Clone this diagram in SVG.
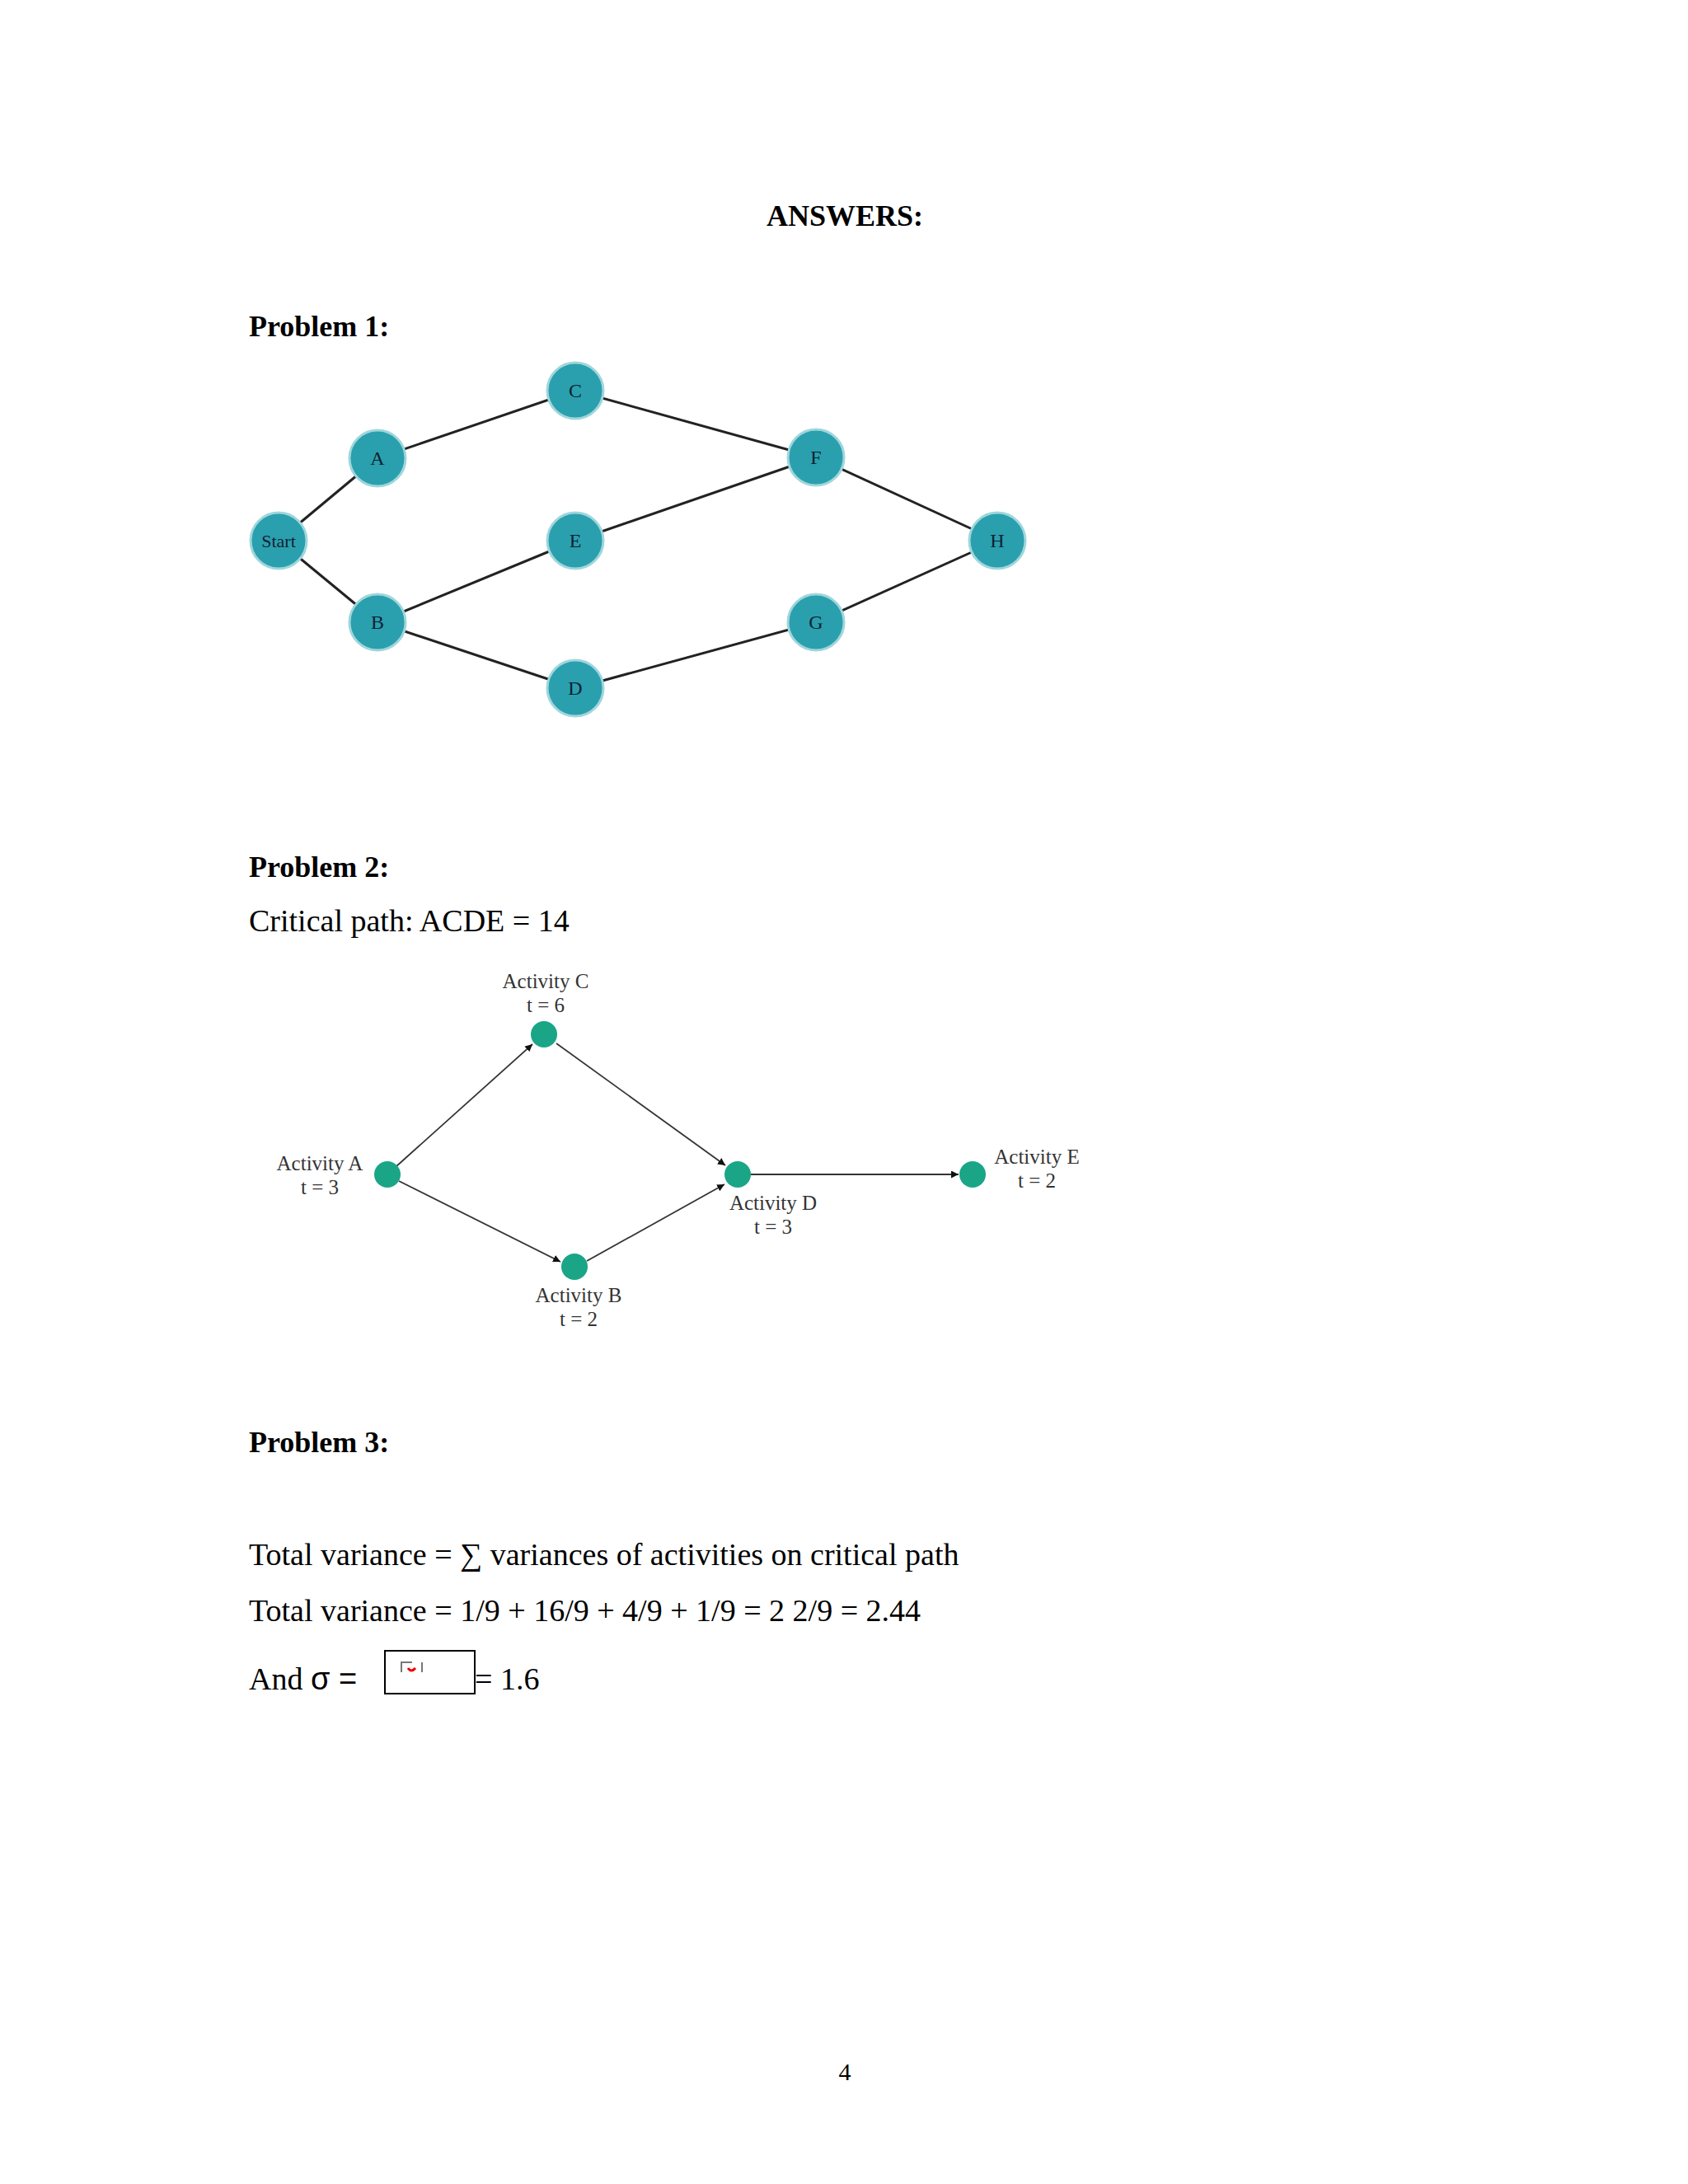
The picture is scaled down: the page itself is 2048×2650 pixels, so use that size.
<svg xmlns="http://www.w3.org/2000/svg" width="2048" height="2650" viewBox="0 0 2048 2650">
<style>
.t{font-family:"Liberation Serif",serif;fill:#000}
.b{font-weight:bold;font-size:36px}
.n1{fill:#2aa0ae;stroke:#9fd6dc;stroke-width:3}
.l1{font-family:"Liberation Serif",serif;font-size:24px;fill:#123;text-anchor:middle}
.n2{fill:#1aa587}
.l2{font-family:"Liberation Serif",serif;font-size:25px;fill:#333;text-anchor:middle}
.e1{stroke:#222;stroke-width:3}
.e2{stroke:#333;stroke-width:1.8;fill:none;marker-end:url(#ar)}
</style>
<defs><marker id="ar" viewBox="0 0 10 10" refX="10" refY="5" markerWidth="9" markerHeight="9" markerUnits="userSpaceOnUse" orient="auto"><path d="M0,0L10,5L0,10z" fill="#111"/></marker></defs>
<rect width="2048" height="2650" fill="#fff"/>
<text class="t b" x="1025" y="274" text-anchor="middle">ANSWERS:</text>
<text class="t b" x="302" y="408">Problem  1:</text>
<g id="edges1">
<line class="e1" x1="338" y1="656" x2="458" y2="556"/>
<line class="e1" x1="338" y1="656" x2="458" y2="755"/>
<line class="e1" x1="458" y1="556" x2="698" y2="474"/>
<line class="e1" x1="458" y1="755" x2="698" y2="656"/>
<line class="e1" x1="458" y1="755" x2="698" y2="835"/>
<line class="e1" x1="698" y1="474" x2="990" y2="555"/>
<line class="e1" x1="698" y1="656" x2="990" y2="555"/>
<line class="e1" x1="698" y1="835" x2="990" y2="755"/>
<line class="e1" x1="990" y1="555" x2="1210" y2="656"/>
<line class="e1" x1="990" y1="755" x2="1210" y2="656"/>
</g>
<g id="p1-start"><circle class="n1" cx="338" cy="656" r="34"/><text class="l1" x="338" y="664" style="font-size:22px">Start</text></g>
<g id="p1-A"><circle class="n1" cx="458" cy="556" r="34"/><text class="l1" x="458" y="564">A</text></g>
<g id="p1-B"><circle class="n1" cx="458" cy="755" r="34"/><text class="l1" x="458" y="763">B</text></g>
<g id="p1-C"><circle class="n1" cx="698" cy="474" r="34"/><text class="l1" x="698" y="482">C</text></g>
<g id="p1-E"><circle class="n1" cx="698" cy="656" r="34"/><text class="l1" x="698" y="664">E</text></g>
<g id="p1-D"><circle class="n1" cx="698" cy="835" r="34"/><text class="l1" x="698" y="843">D</text></g>
<g id="p1-F"><circle class="n1" cx="990" cy="555" r="34"/><text class="l1" x="990" y="563">F</text></g>
<g id="p1-G"><circle class="n1" cx="990" cy="755" r="34"/><text class="l1" x="990" y="763">G</text></g>
<g id="p1-H"><circle class="n1" cx="1210" cy="656" r="34"/><text class="l1" x="1210" y="664">H</text></g>
<text class="t b" x="302" y="1064">Problem  2:</text>
<text class="t" x="302" y="1130" style="font-size:38px">Critical  path:  ACDE = 14</text>
<g id="edges2">
<line class="e2" x1="480" y1="1416" x2="646" y2="1267"/>
<line class="e2" x1="675" y1="1266" x2="880" y2="1414"/>
<line class="e2" x1="484" y1="1433" x2="680" y2="1531"/>
<line class="e2" x1="712" y1="1530" x2="879" y2="1437"/>
<line class="e2" x1="911" y1="1425" x2="1163" y2="1425"/>
</g>
<g id="p2-A"><circle class="n2" cx="470" cy="1425" r="16"/><text class="l2" x="388" y="1420">Activity A</text><text class="l2" x="388" y="1449">t = 3</text></g>
<g id="p2-C"><circle class="n2" cx="660" cy="1255" r="16"/><text class="l2" x="662" y="1199">Activity C</text><text class="l2" x="662" y="1228">t = 6</text></g>
<g id="p2-B"><circle class="n2" cx="697" cy="1537" r="16"/><text class="l2" x="702" y="1580">Activity B</text><text class="l2" x="702" y="1609">t = 2</text></g>
<g id="p2-D"><circle class="n2" cx="895" cy="1425" r="16"/><text class="l2" x="938" y="1468">Activity D</text><text class="l2" x="938" y="1497">t = 3</text></g>
<g id="p2-E"><circle class="n2" cx="1180" cy="1425" r="16"/><text class="l2" x="1258" y="1412">Activity E</text><text class="l2" x="1258" y="1441">t = 2</text></g>
<text class="t b" x="302" y="1762">Problem  3:</text>
<text class="t" x="302" y="1899" style="font-size:38px">Total  variance = ∑  variances  of activities  on critical  path</text>
<text class="t" x="302" y="1967" style="font-size:38px">Total  variance  = 1/9 + 16/9 + 4/9 + 1/9 = 2 2/9 = 2.44</text>
<text class="t" x="302" y="2050" style="font-size:38px">And <tspan font-family="Liberation Sans,sans-serif">σ  =</tspan></text>
<rect x="467" y="2003" width="109" height="52" fill="none" stroke="#000" stroke-width="2"/>
<path d="M487,2029V2017H500M512,2017V2029" stroke="#777" stroke-width="2" fill="none"/>
<path d="M495,2024q4,6 9,0" stroke="#e00" stroke-width="3" fill="none"/>
<text class="t" x="576" y="2050" style="font-size:38px">= 1.6</text>
<text class="t" x="1025" y="2524" text-anchor="middle" style="font-size:30px">4</text>
</svg>
